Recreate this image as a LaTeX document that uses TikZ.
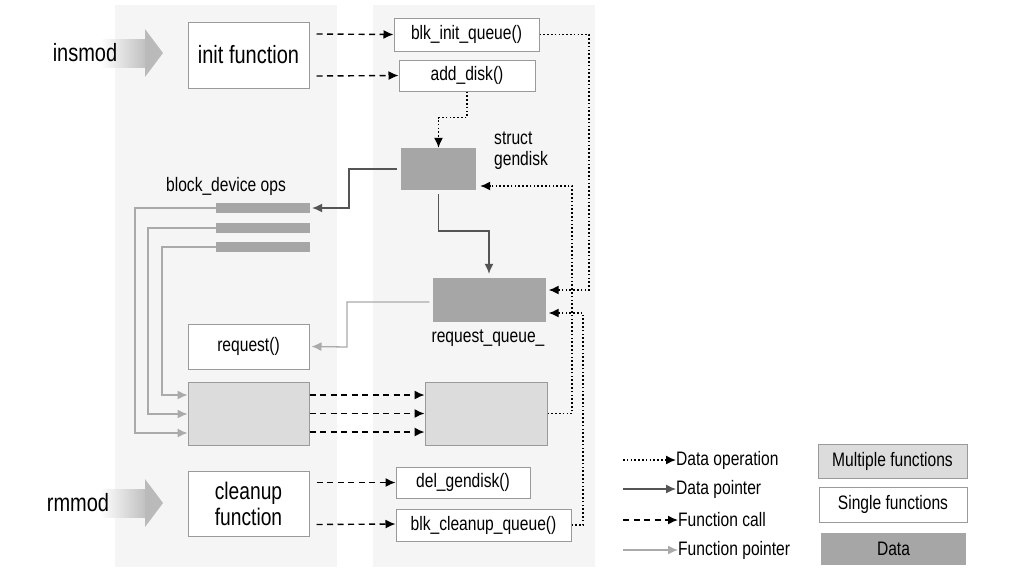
\documentclass[tikz,border=0pt]{standalone}
\usepackage{fontspec}
\setmainfont{Liberation Sans}[FakeStretch=0.8]
\usetikzlibrary{arrows.meta,shadings}
\definecolor{panel}{HTML}{F5F5F5}
\definecolor{multi}{HTML}{DCDCDC}
\definecolor{datac}{HTML}{A6A6A6}
\definecolor{bord}{HTML}{9A9A9A}
\definecolor{dptr}{HTML}{555555}
\definecolor{fptr}{HTML}{AAAAAA}
\begin{document}
\begin{tikzpicture}[x=1pt,y=-1pt,
 box/.style={draw=bord,line width=1pt,fill=white,inner sep=0pt,font=\fontsize{19.5}{21}\selectfont},
 mbox/.style={box,fill=multi},
 dbox/.style={draw=none,fill=datac,inner sep=0pt},
 tip/.style={-{Latex[length=10pt,width=9pt]}},
 dop/.style={tip,dash pattern=on 1.6pt off 2.2pt,line width=1.4pt,black},
 fcall/.style={tip,dash pattern=on 6pt off 4.5pt,line width=1.4pt,black},
 dptrs/.style={tip,line width=1.3pt,dptr},
 fptrs/.style={tip,line width=1.3pt,fptr},
 lbl/.style={font=\fontsize{19.5}{21}\selectfont,inner sep=0pt},
 big/.style={font=\fontsize{25}{25}\selectfont}]
\useasboundingbox (0,0) rectangle (1015,579);
\fill[white] (0,0) rectangle (1015,579);
\fill[panel] (115,5) rectangle (337,567);
\fill[panel] (373,5) rectangle (595,567);
% big arrows
\foreach \yy in {53,503}{
 \shade[left color=white,right color=black!25] (100,\yy-14) rectangle (146,\yy+14);
 \fill[black!27] (145,\yy-24) -- (163,\yy) -- (145,\yy+24) -- cycle;
}
\node[lbl,big] (insmod) at (85,53) {insmod};
\node[lbl,big] (rmmod) at (78,503) {rmmod};
% boxes
\node[box,big,minimum width=121pt,minimum height=66pt] (init) at (248.5,55) {init function};
\node[box,minimum width=145pt,minimum height=33pt] (biq) at (466.5,34.5) {blk\_init\_queue()};
\node[box,minimum width=136pt,minimum height=31pt] (add) at (467,75.5) {add\_disk()};
\node[dbox,minimum width=75pt,minimum height=42pt] (gd) at (438.5,169) {};
\node[lbl,align=left,anchor=north west] (gdl) at (494,132) {struct\\gendisk};
\node[lbl] (bdl) at (226,186) {block\_device ops};
\node[dbox,minimum width=94pt,minimum height=10pt] (b1) at (263,208) {};
\node[dbox,minimum width=94pt,minimum height=10pt] (b2) at (263,228) {};
\node[dbox,minimum width=94pt,minimum height=10pt] (b3) at (263,247) {};
\node[dbox,minimum width=113pt,minimum height=44pt] (rq) at (489,300) {};
\node[lbl] (rql) at (488,338) {request\_queue\_};
\node[box,minimum width=121pt,minimum height=45pt] (req) at (248.5,346.5) {request()};
\node[mbox,minimum width=121pt,minimum height=63pt] (ml) at (248.5,413.5) {};
\node[mbox,minimum width=122pt,minimum height=63pt] (mr) at (486,413.5) {};
\node[box,align=center,minimum width=121pt,minimum height=65pt,font=\fontsize{24}{26}\selectfont] (clean) at (248.5,503.5) {cleanup\\function};
\node[box,minimum width=134pt,minimum height=31pt] (del) at (463,482.5) {del\_gendisk()};
\node[box,minimum width=175pt,minimum height=32pt] (bcq) at (483.5,525) {blk\_cleanup\_queue()};
% function calls
\draw[fcall] ([xshift=7pt,yshift=21pt]init.east) -- (biq.west);
\draw[fcall] ([xshift=7pt,yshift=-21pt]init.east) -- (add.west);
\draw[fcall] ([xshift=7pt,yshift=21pt]clean.east) -- (del.west);
\draw[fcall] ([xshift=7pt,yshift=-21pt]clean.east) -- ([yshift=1pt]bcq.west);
\foreach \dy in {18.5,0,-18.5}
 \draw[fcall] ([yshift=\dy pt]ml.east) -- ([yshift=\dy pt]mr.west);
% data operations
\draw[dop] (add.south) -- ++(0,26) -| (gd.north);
\draw[dop] (biq.east) -| (589,290) -- ([xshift=3pt,yshift=10pt]rq.east);
\draw[dop] (mr.east) -| (572,186) -- ([xshift=4pt,yshift=-17pt]gd.east);
\draw[dop] (bcq.east) -| (583,313) -- ([xshift=3pt,yshift=-13pt]rq.east);
% data pointers
\draw[dptrs] ([xshift=-4pt]gd.west) -| (349,208) -- ([xshift=2pt]b1.east);
\draw[dptrs] ([yshift=-4pt]gd.south) |- (489,231) -- ([yshift=4pt]rq.north);
% function pointers
\draw[fptrs] ([xshift=-3pt,yshift=-2pt]rq.west) -| (347,347) -- ([xshift=2pt]req.east);
\draw[fptrs] (b1.west) -| (135,433) -- ([yshift=-19.5pt]ml.west);
\draw[fptrs] (b2.west) -| (148,414) -- ([yshift=-0.5pt]ml.west);
\draw[fptrs] (b3.west) -| (162,395) -- ([yshift=18.5pt]ml.west);
% legend
\coordinate (l1) at (623,460); \coordinate (l2) at (623,489);
\coordinate (l3) at (623,520); \coordinate (l4) at (623,550);
\node[lbl,anchor=west] (t1) at (676,460) {Data operation};
\node[lbl,anchor=west] (t2) at (676,489) {Data pointer};
\node[lbl,anchor=west] (t3) at (678,520) {Function call};
\node[lbl,anchor=west] (t4) at (678,550) {Function pointer};
\draw[dop] (l1) -- (t1.west);
\draw[dptrs] (l2) -- (t2.west);
\draw[fcall] (l3) -- (t3.west);
\draw[fptrs] (l4) -- (t4.west);
\node[mbox,minimum width=149pt,minimum height=34pt] (lm) at (892.5,461) {Multiple functions};
\node[box,minimum width=148pt,minimum height=35pt] (ls) at (893,504.5) {Single functions};
\node[dbox,font=\fontsize{19.5}{21}\selectfont,minimum width=145pt,minimum height=32pt] (ld) at (893.5,549) {Data};
\end{tikzpicture}
\end{document}
